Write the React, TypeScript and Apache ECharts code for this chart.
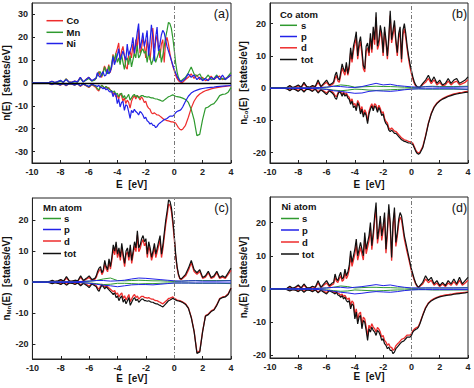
import React, { useEffect, useRef } from "react";
import * as echarts from "echarts";

// ---------- energy grids (eV) ----------
const energy = [
  -10, -9.5, -9, -8.8, -8.6, -8.4, -8.2, -8, -7.8, -7.6, -7.4, -7.2, -7, -6.8, -6.6, -6.4, -6.2, -6, -5.8, -5.6,
  -5.5, -5.4, -5.3, -5.2, -5.1, -5, -4.9, -4.8, -4.7, -4.6,
  -4.5, -4.4, -4.3, -4.2, -4.1, -4, -3.9, -3.8, -3.7, -3.6,
  -3.5, -3.4, -3.3, -3.2, -3.1, -3, -2.9, -2.8, -2.7, -2.6,
  -2.5, -2.4, -2.3, -2.2, -2.1, -2, -1.9, -1.8, -1.7, -1.6,
  -1.5, -1.4, -1.3, -1.2, -1.1, -1, -0.9, -0.8, -0.7, -0.6,
  -0.5, -0.4, -0.3, -0.2, -0.1, 0, 0.1, 0.2, 0.3, 0.4,
  0.5,
  0.6, 0.8, 1, 1.2, 1.4, 1.6, 1.8, 2, 2.2, 2.4, 2.6, 2.8, 3, 3.2, 3.4, 3.6, 3.8, 4,
];
const orbitalEnergy = [-10, -9, -8, -7, -6.5, -6, -5.5, -5, -4.5, -4, -3.5, -3, -2.5, -2, -1.5, -1, -0.5, 0, 0.5, 1, 1.5, 2, 3, 4];

// ---------- Co ----------
const coTotUp = [
  0, 0, 0, 0.2, 0.8, 0.2, 0.5, 1, 0.3, 1.8, 0.5, 0.3, 0.8, 0.5, 2.5, 0.5, 1.5, 2.5, 1, 1.5,
  2, 4, 5, 3, 2.5, 5, 7.5, 6, 5, 8,
  4.5, 7, 12.5, 9, 13, 15, 17.5, 10, 14, 16,
  12, 7, 6, 13, 14, 11, 17, 12, 19, 15,
  23.5, 13, 15, 19.5, 17, 11, 19, 15, 10, 16,
  24, 15, 18, 21, 15, 11, 17, 19, 9, 18,
  20, 17, 13, 10, 7.5, 5.5, 3.5, 2, 1, 0.5,
  0.3,
  0.3, 1.5, 2.5, 4, 2, 3.5, 1.5, 2.5, 1, 1.5, 3, 1.5, 2.5, 3, 1.5, 2, 2.5, 3.5,
];
const coDUp = [
  0, 0, 0, 0.1, 0.6, 0.1, 0.4, 0.7, 0.2, 1.3, 0.4, 0.2, 0.6, 0.4, 1.8, 0.4, 1.1, 1.8, 0.7, 1.1,
  1.5, 3, 4, 2.2, 1.8, 4, 6.3, 5, 4, 7,
  4, 6, 11, 8, 11.5, 13.5, 16, 9, 12.5, 14.5,
  10.5, 6, 5, 11.5, 12.5, 10, 15.5, 11, 17.5, 13.5,
  22, 12, 13.5, 18, 15.5, 10, 17.5, 14, 9, 14.5,
  22.5, 14, 16.5, 19.5, 14, 10, 15.5, 17.5, 8, 16.5,
  18.5, 15.5, 12, 9, 6.5, 4.5, 2.8, 1.5, 0.7, 0.3,
  0.2,
  0.2, 1.1, 1.8, 3, 1.4, 2.6, 1, 1.8, 0.7, 1, 2.2, 1, 1.8, 2.2, 1, 1.4, 1.8, 2.6,
];
const coTotDown = [
  0, 0, 0, -0.2, -0.8, -0.2, -0.5, -1, -0.3, -1.2, -0.3, -0.5, -1, -0.3, -1.5, -0.5, -1.2, -2, -0.8, -1.5,
  -2, -3, -3.5, -2, -1, -1.5, -2.5, -1.5, -2.5, -2,
  -3, -3.5, -5, -4, -6, -5.5, -7, -4.5, -5.5, -8,
  -6.5, -9, -7.5, -8.5, -11, -8, -6.5, -5.5, -7, -5.5,
  -6, -7.5, -6, -7, -8.5, -8, -10, -11, -11.5, -13,
  -13.5, -13, -13.5, -14, -14, -14.5, -15, -15.5, -16, -16.2,
  -16.5, -16.6, -16.8, -17, -17, -17.2, -17.5, -18.5, -19.5, -20.2,
  -20.5,
  -20.2, -18.5, -15, -11, -8, -6, -4.8, -4, -3.4, -3, -2.6, -2.3, -2, -1.8, -1.6, -1.5, -1.3, -1.2,
];
const coDDown = [
  0, 0, 0, -0.1, -0.6, -0.1, -0.4, -0.7, -0.2, -0.9, -0.2, -0.4, -0.7, -0.2, -1.1, -0.4, -0.9, -1.5, -0.6, -1.1,
  -1.5, -2.3, -2.7, -1.5, -0.7, -1.1, -2, -1.1, -2, -1.5,
  -2.4, -2.8, -4.2, -3.3, -5.2, -4.7, -6.2, -3.8, -4.7, -7.2,
  -5.7, -8.2, -6.7, -7.7, -10.2, -7.2, -5.8, -4.8, -6.3, -4.8,
  -5.3, -6.8, -5.3, -6.3, -7.8, -7.3, -9.3, -10.3, -10.8, -12.3,
  -12.8, -12.3, -12.8, -13.3, -13.4, -13.9, -14.4, -14.9, -15.4, -15.7,
  -16, -16.1, -16.3, -16.5, -16.6, -16.8, -17.1, -18.1, -19.1, -19.8,
  -20.1,
  -19.8, -18.1, -14.7, -10.8, -7.8, -5.8, -4.6, -3.8, -3.2, -2.8, -2.4, -2.1, -1.8, -1.6, -1.4, -1.3, -1.1, -1,
];
const coSUp = [0, 0, 0.1, 0.1, 0.2, 0.3, 0.6, 1, 0.8, 0.3, 0.4, 0.5, 0.6, 0.5, 0.5, 0.4, 0.3, 0.2, 0.3, 0.5, 0.6, 0.5, 0.5, 0.6];
const coSDown = [0, 0, -0.1, -0.1, -0.2, -0.3, -0.6, -0.8, -0.6, -0.3, -0.4, -0.6, -0.7, -0.6, -0.5, -0.4, -0.3, -0.2, -0.2, -0.3, -0.3, -0.3, -0.3, -0.4];
const coPUp = [0, 0, 0.1, 0.1, 0.2, 0.3, 0.6, 0.5, 0.3, 0.2, 0.5, 1, 1.5, 1, 1.2, 0.8, 0.6, 0.4, 0.3, 0.4, 0.4, 0.3, 0.3, 0.4];
const coPDown = [0, 0, -0.1, -0.1, -0.2, -0.4, -0.8, -1, -1.3, -1.6, -1.5, -1, -0.8, -0.9, -1, -0.8, -0.5, -0.3, -0.2, -0.2, -0.2, -0.2, -0.2, -0.3];

// ---------- Mn ----------
const mnTotUp = [
  0, 0, 0, 0.2, 0.6, 0.2, 0.4, 0.8, 0.3, 1.8, 0.4, 0.3, 0.6, 0.4, 2, 0.5, 1.2, 2, 0.8, 1.2,
  2, 3.5, 4.5, 5, 3, 4, 7, 5, 4, 7.5,
  5, 8, 12, 10, 13, 9, 11, 8, 12.5, 9,
  6, 10, 11, 8, 12, 7, 10, 13, 11, 16.5,
  11, 12, 14, 15, 13, 14, 9, 13, 11, 8,
  10, 12.5, 9, 11, 13, 15, 9, 12, 16, 20,
  23, 26.5, 26, 24, 20, 15, 9, 5, 2.5, 1.2,
  1,
  1.5, 2.5, 4.5, 7, 4, 3, 4, 1.5, 2, 3.5, 1.5, 2, 3.5, 1.5, 2, 1.5, 3, 4.5,
];
const mnDUp = [
  0, 0, 0, 0.1, 0.4, 0.1, 0.3, 0.6, 0.2, 1.3, 0.3, 0.2, 0.4, 0.3, 1.5, 0.4, 0.9, 1.5, 0.6, 0.9,
  1.5, 2.8, 3.7, 4.2, 2.4, 3.3, 6, 4.2, 3.3, 6.5,
  4.2, 7, 10.8, 8.8, 11.6, 7.9, 9.8, 7, 11.2, 7.9,
  5, 8.8, 9.8, 7, 10.8, 6, 8.8, 11.7, 9.8, 15.2,
  9.8, 10.8, 12.7, 13.7, 11.7, 12.7, 7.9, 11.7, 9.8, 7,
  8.8, 11.3, 7.9, 9.8, 11.7, 13.7, 7.9, 10.8, 14.7, 18.6,
  21.6, 25.2, 24.7, 22.8, 18.8, 14, 8.3, 4.5, 2.2, 1,
  0.8,
  1.2, 2, 3.8, 6.2, 3.4, 2.5, 3.4, 1.2, 1.6, 3, 1.2, 1.6, 3, 1.2, 1.6, 1.2, 2.5, 3.8,
];
const mnTotDown = [
  0, 0, 0, -0.2, -0.5, -0.2, -0.4, -0.8, -0.2, -1, -0.3, -0.4, -0.8, -0.3, -1.2, -0.4, -1, -1.8, -0.6, -1.2,
  -1.5, -2.5, -3, -1.8, -1, -1.5, -2.2, -1.5, -2, -2.5,
  -3, -3.5, -4, -3.5, -5, -4.5, -6, -5, -4.5, -6.5,
  -5.5, -7, -6, -5, -7.5, -6.5, -5.5, -5, -6, -5.5,
  -6.5, -6, -5.5, -5.5, -6, -6, -6.2, -6, -6.3, -6.5,
  -6.5, -6.8, -7, -7, -7.3, -7.5, -7.8, -8, -7.5, -7,
  -6.5, -6, -5.8, -5.5, -5.2, -5.5, -5.8, -6, -6.1, -6.2,
  -6.4,
  -6.6, -7.2, -8.5, -11.5, -16, -23, -22.5, -16, -11, -10.5, -9.5, -9, -7.5, -5.5, -5, -4.8, -4, -2,
];
const mnDDown = [
  0, 0, 0, -0.1, -0.4, -0.1, -0.3, -0.6, -0.1, -0.7, -0.2, -0.3, -0.6, -0.2, -0.9, -0.3, -0.7, -1.3, -0.4, -0.9,
  -1.1, -1.9, -2.3, -1.3, -0.7, -1.1, -1.7, -1.1, -1.5, -1.9,
  -2.3, -2.7, -3.1, -2.7, -3.9, -3.5, -4.8, -4, -3.5, -5.3,
  -4.4, -5.8, -4.9, -4, -6.3, -5.4, -4.5, -4, -5, -4.5,
  -5.5, -5, -4.6, -4.6, -5, -5, -5.2, -5, -5.3, -5.5,
  -5.5, -5.8, -6, -6, -6.3, -6.5, -6.8, -7, -6.6, -6.2,
  -5.8, -5.3, -5.2, -5, -4.8, -5.2, -5.5, -5.8, -5.9, -6,
  -6.2,
  -6.4, -7, -8.3, -11.3, -15.8, -22.7, -22.2, -15.8, -10.8, -10.3, -9.3, -8.8, -7.3, -5.3, -4.8, -4.6, -3.8, -1.9,
];
const mnSUp = [0, 0, 0.1, 0.1, 0.2, 0.3, 0.5, 1, 1.3, 0.5, 0.4, 0.5, 0.6, 0.5, 0.4, 0.4, 0.3, 0.2, 0.3, 0.4, 0.5, 0.5, 0.5, 0.5];
const mnSDown = [0, 0, -0.1, -0.1, -0.2, -0.3, -0.5, -0.8, -0.7, -0.4, -0.4, -0.5, -0.6, -0.5, -0.5, -0.4, -0.3, -0.3, -0.3, -0.3, -0.4, -0.4, -0.4, -0.5];
const mnPUp = [0, 0, 0.1, 0.1, 0.2, 0.3, 0.5, 0.5, 0.3, 0.4, 0.6, 1, 1.3, 1.2, 1, 0.8, 0.6, 0.4, 0.3, 0.4, 0.4, 0.3, 0.3, 0.4];
const mnPDown = [0, 0, -0.1, -0.1, -0.2, -0.4, -0.7, -1, -1.2, -1.5, -1.2, -0.9, -0.8, -0.8, -0.9, -0.7, -0.5, -0.3, -0.3, -0.3, -0.3, -0.3, -0.3, -0.3];

// ---------- Ni ----------
const niTotUp = [
  0, 0, 0, 0.2, 0.8, 0.2, 0.6, 1.2, 0.3, 1.5, 0.4, 0.3, 0.8, 0.5, 2.5, 0.5, 1.5, 2.5, 1, 1.8,
  2, 4.5, 3, 2.5, 4, 5, 3, 3.5, 6, 4,
  5, 7, 11.5, 8, 10, 12, 15, 10, 12, 14,
  12, 10, 17, 12, 14, 16, 20, 13, 17, 22,
  26, 15, 18, 22, 16, 19, 23, 12, 18, 25.5,
  20, 9.5, 20, 24.5, 14, 17, 21, 23, 22, 19,
  16, 14, 12, 10, 8, 6, 4.5, 3, 1.8, 1,
  0.5,
  1, 2, 4, 2.5, 3.5, 1.5, 2.5, 1, 2, 1, 2.5, 1.5, 3, 1.5, 3.5, 1.5, 2.5, 3.5,
];
const niDUp = [
  0, 0, 0, 0.1, 0.6, 0.1, 0.4, 0.9, 0.2, 1.1, 0.3, 0.2, 0.6, 0.4, 1.8, 0.4, 1.1, 1.8, 0.7, 1.3,
  1.5, 3.5, 2.3, 1.9, 3.1, 4, 2.3, 2.7, 5, 3.1,
  4, 5.8, 10, 6.8, 8.6, 10.5, 13.5, 8.7, 10.5, 12.5,
  10.5, 8.7, 15.5, 10.6, 12.5, 14.5, 18.5, 11.8, 15.5, 20.5,
  24.5, 13.7, 16.5, 20.5, 14.6, 17.5, 21.5, 10.8, 16.5, 24,
  18.8, 8.5, 18.8, 23, 12.8, 15.8, 19.7, 21.7, 20.8, 17.9,
  15, 13, 11, 9.2, 7.3, 5.4, 4, 2.6, 1.5, 0.8,
  0.4,
  0.8, 1.5, 3, 1.9, 2.6, 1.1, 1.8, 0.7, 1.5, 0.7, 1.8, 1.1, 2.2, 1.1, 2.6, 1.1, 1.8, 2.6,
];
const niTotDown = [
  0, 0, 0, -0.2, -0.6, -0.2, -0.4, -0.8, -0.2, -1, -0.3, -0.4, -0.8, -0.3, -1.2, -0.4, -1, -1.5, -0.5, -1,
  -1.2, -1.5, -1, -1.8, -2, -2.5, -2, -3, -2.5, -3.5,
  -4, -3.5, -6, -4.5, -5, -9, -7, -10.5, -8.5, -8,
  -12, -9.5, -10, -12.5, -15.5, -12, -13, -11.5, -12.5, -13,
  -14, -12.5, -13, -14, -15.5, -15, -16.5, -17, -18, -17.5,
  -18.5, -18.5, -19.5, -19, -18, -17.5, -17, -16.5, -16, -15.8,
  -15.5, -15, -14.5, -14.5, -14.5, -14, -13, -12.5, -12.2, -12,
  -11.5,
  -10.5, -8, -5.8, -4.4, -3.6, -3.1, -2.7, -2.4, -2.2, -2, -1.9, -1.8, -1.6, -1.5, -1.4, -1.3, -1.2, -1,
];
const niDDown = [
  0, 0, 0, -0.1, -0.4, -0.1, -0.3, -0.6, -0.1, -0.7, -0.2, -0.3, -0.6, -0.2, -0.9, -0.3, -0.7, -1.1, -0.4, -0.7,
  -0.9, -1.1, -0.7, -1.3, -1.5, -1.9, -1.5, -2.3, -1.9, -2.7,
  -3.1, -2.7, -5, -3.6, -4.1, -7.8, -6, -9.3, -7.4, -7,
  -10.8, -8.5, -9, -11.4, -14.2, -10.9, -11.9, -10.5, -11.5, -12,
  -13, -11.6, -12.1, -13, -14.5, -14, -15.5, -16, -17, -16.5,
  -17.5, -17.6, -18.5, -18.1, -17.1, -16.6, -16.2, -15.7, -15.2, -15,
  -14.8, -14.3, -13.9, -13.9, -13.9, -13.5, -12.6, -12.1, -11.8, -11.6,
  -11.2,
  -10.2, -7.8, -5.6, -4.2, -3.4, -2.9, -2.5, -2.2, -2, -1.8, -1.7, -1.6, -1.4, -1.3, -1.2, -1.1, -1, -0.9,
];
const niSUp = [0, 0, 0.1, 0.1, 0.2, 0.3, 0.5, 0.9, 0.7, 0.3, 0.4, 0.5, 0.5, 0.4, 0.4, 0.3, 0.3, 0.2, 0.2, 0.3, 0.3, 0.3, 0.3, 0.4];
const niSDown = [0, 0, -0.1, -0.1, -0.2, -0.3, -0.5, -0.7, -0.6, -0.3, -0.4, -0.5, -0.6, -0.5, -0.4, -0.3, -0.3, -0.2, -0.2, -0.2, -0.3, -0.3, -0.3, -0.3];
const niPUp = [0, 0, 0.1, 0.1, 0.2, 0.3, 0.5, 0.5, 0.3, 0.5, 0.7, 1, 1.3, 1, 1.2, 0.8, 0.5, 0.3, 0.3, 0.3, 0.3, 0.3, 0.3, 0.3];
const niPDown = [0, 0, -0.1, -0.1, -0.2, -0.4, -0.7, -1, -1.2, -1.5, -1.3, -1, -0.8, -0.9, -1, -0.8, -0.5, -0.3, -0.2, -0.2, -0.2, -0.2, -0.2, -0.2];

// ---------- ticks / labels ----------
const xTicks = [-10, -8, -6, -4, -2, 0, 2, 4];
const yTicksA = [-30, -20, -10, 0, 10, 20, 30];
const yTicksB = [-20, -10, 0, 10, 20];
const panelTags = ["(a)", "(b)", "(c)", "(d)"];
const atomNames = ["Co", "Mn", "Ni"];
const orbitalNames = ["s", "p", "d", "tot"];

const FONT = "'Liberation Sans', Arial, Helvetica, sans-serif";
const RED = "#ee2c2c";
const GREEN = "#2f9a2f";
const BLUE = "#2222e8";
const BLACK = "#111111";
const orbitalColors = [GREEN, BLUE, RED, BLACK];
const atomColors = [RED, GREEN, BLUE];

const grids = [
  { left: 32, top: 3, width: 199, height: 160 },
  { left: 270, top: 3, width: 198, height: 160 },
  { left: 32, top: 198, width: 199, height: 161 },
  { left: 270, top: 197, width: 198, height: 161 },
];
const yRanges = [
  [-35, 35],
  [-23.2, 26.4],
  [-24.8, 27.1],
  [-20.8, 27.7],
];
const xNameGaps = [16, 16, 14, 13];

function pairs(xs: number[], ys: number[]) {
  return xs.map((x, i) => [x, ys[i]]);
}

function lineSeries(g: number, xs: number[], ys: number[], color: string, width: number, extra: any = {}) {
  return {
    type: "line",
    xAxisIndex: g,
    yAxisIndex: g,
    data: pairs(xs, ys),
    showSymbol: false,
    symbol: "none",
    silent: true,
    lineStyle: { color, width },
    itemStyle: { color },
    ...extra,
  };
}

function zeroMark(withHorizontal: boolean) {
  const data: any[] = [
    { xAxis: 0, lineStyle: { color: "#777", type: [4, 2, 1, 2], width: 1 } },
  ];
  if (withHorizontal) data.push({ yAxis: 0, lineStyle: { color: "#000", type: "solid", width: 1.4 } });
  return {
    markLine: {
      silent: true,
      symbol: ["none", "none"],
      label: { show: false },
      data,
    },
  };
}

function yName(sub: string | null) {
  if (!sub) return "n(E)  [states/eV]";
  return `{n|n}{sub|${sub}}{n|(E)  [states/eV]}`;
}

export default function App() {
  const ref = useRef<HTMLDivElement>(null);
  useEffect(() => {
    if (!ref.current) return;
    const chart = echarts.init(ref.current, null, { renderer: "svg" });

    const xAxes = grids.map((_, g) => ({
      gridIndex: g,
      type: "value",
      min: -10,
      max: 4,
      interval: 2,
      name: "E  [eV]",
      nameLocation: "middle",
      nameGap: xNameGaps[g],
      nameTextStyle: { fontSize: 10, fontWeight: "bold", color: "#111", fontFamily: FONT },
      axisLine: { show: true, onZero: false, lineStyle: { color: "#222", width: 1 } },
      axisTick: { show: true, inside: true, length: 3, lineStyle: { color: "#222" } },
      axisLabel: {
        fontSize: 9, fontWeight: "bold", color: "#222", margin: 4, fontFamily: FONT,
        showMinLabel: true, showMaxLabel: true, customValues: xTicks,
      },
      splitLine: { show: false },
    }));

    const subs = [null, "Co", "Mn", "Ni"];
    const yAxes = grids.map((_, g) => {
      const ticks = g === 0 ? yTicksA : yTicksB;
      return {
        gridIndex: g,
        type: "value",
        min: yRanges[g][0],
        max: yRanges[g][1],
        name: yName(subs[g]),
        nameLocation: "middle",
        nameGap: 20,
        nameTextStyle: {
          fontSize: 10, fontWeight: "bold", color: "#111", fontFamily: FONT,
          rich: {
            n: { fontSize: 10, fontWeight: "bold", color: "#111", fontFamily: FONT },
            sub: { fontSize: 6, fontWeight: "bold", color: "#111", fontFamily: FONT, verticalAlign: "bottom", padding: [5, 0, 0, 0] },
          },
        },
        axisLine: { show: true, onZero: false, lineStyle: { color: "#222", width: 1 } },
        axisTick: { show: true, inside: true, length: 3, lineStyle: { color: "#222" }, customValues: ticks },
        axisLabel: { fontSize: 9, fontWeight: "bold", color: "#222", margin: 4, fontFamily: FONT, customValues: ticks },
        splitLine: { show: false },
      };
    });

    const series: any[] = [];
    // panel (a): total DOS per atom
    const atomTot = [
      [coTotUp, coTotDown],
      [mnTotUp, mnTotDown],
      [niTotUp, niTotDown],
    ];
    atomTot.forEach((arr, i) => {
      series.push(lineSeries(0, energy, arr[0], atomColors[i], 1.2, i === 0 ? zeroMark(true) : {}));
      series.push(lineSeries(0, energy, arr[1], atomColors[i], 1.2));
    });

    // panels (b)-(d): projected DOS (d underneath, tot on top)
    const pdos = [
      { tot: [coTotUp, coTotDown], d: [coDUp, coDDown], s: [coSUp, coSDown], p: [coPUp, coPDown] },
      { tot: [mnTotUp, mnTotDown], d: [mnDUp, mnDDown], s: [mnSUp, mnSDown], p: [mnPUp, mnPDown] },
      { tot: [niTotUp, niTotDown], d: [niDUp, niDDown], s: [niSUp, niSDown], p: [niPUp, niPDown] },
    ];
    pdos.forEach((p, i) => {
      const g = i + 1;
      series.push(lineSeries(g, energy, p.d[0], RED, 1.3, zeroMark(false)));
      series.push(lineSeries(g, energy, p.d[1], RED, 1.3));
      series.push(lineSeries(g, energy, p.tot[0], BLACK, 1.2));
      series.push(lineSeries(g, energy, p.tot[1], BLACK, 1.2));
      series.push(lineSeries(g, orbitalEnergy, p.s[0], GREEN, 1));
      series.push(lineSeries(g, orbitalEnergy, p.s[1], GREEN, 1));
      series.push(lineSeries(g, orbitalEnergy, p.p[0], BLUE, 1));
      series.push(lineSeries(g, orbitalEnergy, p.p[1], BLUE, 1));
    });

    // legends & labels as graphics
    const graphics: any[] = [];
    const addItem = (x1: number, x2: number, xt: number, y: number, color: string, label: string) => {
      graphics.push({ type: "line", shape: { x1, y1: y, x2, y2: y }, style: { stroke: color, lineWidth: 1.5 }, silent: true });
      graphics.push({
        type: "text", x: xt, y, silent: true,
        style: { text: label, fill: "#111", fontSize: 9.5, fontWeight: "bold", fontFamily: FONT, align: "left", verticalAlign: "middle" },
      });
    };
    const addTitle = (x: number, y: number, text: string) => {
      graphics.push({
        type: "text", x, y, silent: true,
        style: { text, fill: "#111", fontSize: 9.5, fontWeight: "bold", fontFamily: FONT, align: "left", verticalAlign: "middle" },
      });
    };
    // (a)
    [20.7, 32.3, 43.5].forEach((y, i) => addItem(46.5, 63, 66.5, y, atomColors[i], atomNames[i]));
    // (b)
    addTitle(280, 14, atomNames[0] + " atom");
    [25.3, 36.5, 47.8, 59.5].forEach((y, i) => addItem(280, 297, 301, y, orbitalColors[i], orbitalNames[i]));
    // (c)
    addTitle(43, 207.5, atomNames[1] + " atom");
    [218.5, 229.5, 241, 253.5].forEach((y, i) => addItem(43, 61, 64, y, orbitalColors[i], orbitalNames[i]));
    // (d)
    addTitle(281.5, 206.5, atomNames[2] + " atom");
    [218.5, 230, 242, 254].forEach((y, i) => addItem(281, 299, 302, y, orbitalColors[i], orbitalNames[i]));
    // panel tags
    const tagPos = [[221.5, 13.5], [459.5, 14], [221.5, 207.5], [459.5, 208]];
    tagPos.forEach((pos, i) => {
      graphics.push({
        type: "text", x: pos[0], y: pos[1], silent: true,
        style: { text: panelTags[i], fill: "#111", fontSize: 12.5, fontFamily: FONT, align: "center", verticalAlign: "middle" },
      });
    });

    chart.setOption({
      animation: false,
      backgroundColor: "#ffffff",
      grid: grids.map((g) => ({ ...g, show: true, borderColor: "#222", borderWidth: 1, backgroundColor: "transparent", containLabel: false })),
      xAxis: xAxes,
      yAxis: yAxes,
      series,
      graphic: graphics,
    });
    return () => chart.dispose();
  }, []);

  return (
    <div
      ref={ref}
      style={{ position: "fixed", left: 0, top: 0, width: 474, height: 388, background: "#fff" }}
    />
  );
}
